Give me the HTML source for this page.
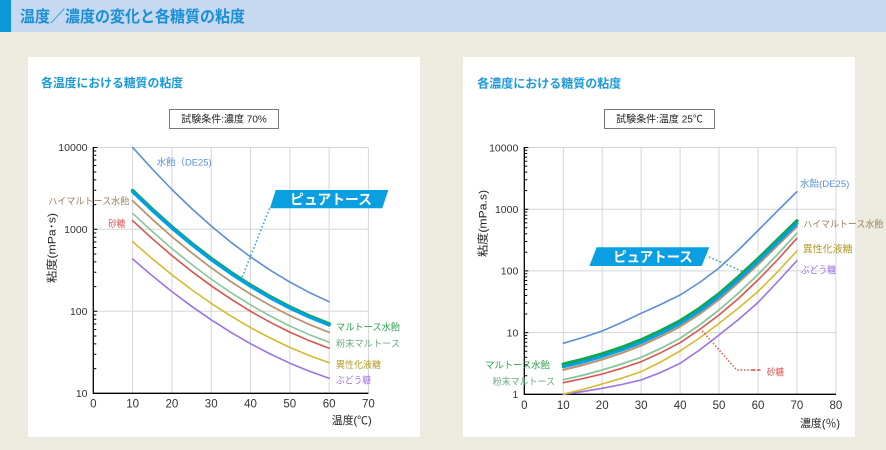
<!DOCTYPE html>
<html><head><meta charset="utf-8">
<style>
html,body{margin:0;padding:0;background:#EDEBE0;}
body{width:886px;height:450px;overflow:hidden;position:relative;}
svg{position:absolute;left:0;top:0;}
text{font-family:"Liberation Sans","Noto Sans CJK JP",sans-serif;}
</style></head>
<body>
<svg width="886" height="450" viewBox="0 0 886 450" xmlns="http://www.w3.org/2000/svg">
<!-- header -->
<rect x="0" y="0" width="886" height="32" fill="#C6D9F1"/>
<rect x="0" y="0" width="11" height="32" fill="#0E96DB"/>
<text x="20" y="22" font-size="16" font-weight="bold" fill="#1A8FD6" textLength="225" lengthAdjust="spacingAndGlyphs">温度／濃度の変化と各糖質の粘度</text>

<!-- panels -->
<rect x="28" y="57" width="392" height="380" fill="#FFFFFF"/>
<rect x="463" y="57" width="392" height="380" fill="#FFFFFF"/>

<!-- ================= LEFT CHART ================= -->
<text x="41" y="87" font-size="12" font-weight="bold" fill="#1E9AD9" textLength="142" lengthAdjust="spacingAndGlyphs">各温度における糖質の粘度</text>
<rect x="169.5" y="109.5" width="109" height="19" fill="none" stroke="#777" stroke-width="1"/>
<text x="224" y="122.5" font-size="10" fill="#222" text-anchor="middle">試験条件:濃度 70%</text>

<g stroke="#D5D5D5" stroke-width="1" fill="none">
<path d="M132.6 147.3V393.3M171.9 147.3V393.3M211.2 147.3V393.3M250.5 147.3V393.3M289.8 147.3V393.3M329.1 147.3V393.3M368.4 147.3V393.3"/>
<path d="M93.3 147.5H368.4M93.3 229.3H368.4M93.3 311.3H368.4"/>
</g>
<g stroke="#000" stroke-width="1.3" fill="none">
<path d="M93.3 147V393.3H368.4"/>
<path d="M93.3 147.5h4M93.3 229.3h4M93.3 311.3h4
M93.3 368.6h3M93.3 354.2h3M93.3 343.9h3M93.3 336h3M93.3 329.5h3M93.3 324h3M93.3 319.2h3M93.3 315h3
M93.3 286.6h3M93.3 272.2h3M93.3 261.9h3M93.3 254h3M93.3 247.5h3M93.3 242h3M93.3 237.2h3M93.3 233h3
M93.3 204.6h3M93.3 190.2h3M93.3 179.9h3M93.3 172h3M93.3 165.5h3M93.3 160h3M93.3 155.2h3M93.3 151h3" stroke-width="1"/>
</g>
<g font-size="10.5" fill="#333" text-anchor="end">
<text x="87.5" y="151">10000</text>
<text x="87.5" y="233">1000</text>
<text x="87.5" y="315">100</text>
<text x="87.5" y="397">10</text>
</g>
<g font-size="11.5" fill="#333" text-anchor="middle">
<text x="93.3" y="407.5">0</text>
<text x="132.6" y="407.5">10</text>
<text x="171.9" y="407.5">20</text>
<text x="211.2" y="407.5">30</text>
<text x="250.5" y="407.5">40</text>
<text x="289.8" y="407.5">50</text>
<text x="329.1" y="407.5">60</text>
<text x="368.4" y="407.5">70</text>
</g>
<text x="331.7" y="424" font-size="11" fill="#222" textLength="40" lengthAdjust="spacingAndGlyphs">温度(℃)</text>
<text transform="translate(55.5,283) rotate(-90)" font-size="11" fill="#222" textLength="70" lengthAdjust="spacingAndGlyphs">粘度(mPa･s)</text>

<g fill="none" stroke-linejoin="round" stroke-linecap="round">
<polyline stroke="#5A8FD8" stroke-width="1.6" points="132.6,147.3 152.3,169.1 171.9,189.5 191.6,208.5 211.2,226 230.9,242.2 250.5,256.9 270.2,270.2 289.8,282.1 309.5,292.6 329.1,301.7"/>
<polyline stroke="#9D72E6" stroke-width="1.6" points="132.6,259 152.3,275.8 171.9,291.6 191.6,306.3 211.2,319.8 230.9,332.3 250.5,343.7 270.2,354 289.8,363.2 309.5,371.3 329.1,378.3"/>
<polyline stroke="#D6BA2E" stroke-width="1.6" points="132.6,241.7 152.3,258.8 171.9,274.8 191.6,289.6 211.2,303.4 230.9,316.1 250.5,327.6 270.2,338 289.8,347.4 309.5,355.6 329.1,362.7"/>
<polyline stroke="#D9534F" stroke-width="1.6" points="132.6,220.7 152.3,238.7 171.9,255.6 191.6,271.3 211.2,285.8 230.9,299.1 250.5,311.3 270.2,322.3 289.8,332.1 309.5,340.8 329.1,348.3"/>
<polyline stroke="#86C79A" stroke-width="1.6" points="132.6,213.3 152.3,231.5 171.9,248.6 191.6,264.4 211.2,279.1 230.9,292.6 250.5,304.9 270.2,316 289.8,326 309.5,334.7 329.1,342.3"/>
<polyline stroke="#B99470" stroke-width="1.8" points="132.6,200.7 152.3,219.3 171.9,236.7 191.6,252.8 211.2,267.8 230.9,281.6 250.5,294.1 270.2,305.5 289.8,315.6 309.5,324.6 329.1,332.3"/>
<polyline stroke="#12A64B" stroke-width="3.6" points="132.6,190.6 152.3,209.4 171.9,227 191.6,243.4 211.2,258.6 230.9,272.5 250.5,285.2 270.2,296.7 289.8,307 309.5,316.1 329.1,323.9"/>
<polyline stroke="#00A0E6" stroke-width="3.2" points="132.6,191.7 152.3,210.5 171.9,228.1 191.6,244.5 211.2,259.7 230.9,273.6 250.5,286.3 270.2,297.8 289.8,308.1 309.5,317.2 329.1,325"/>
</g>

<line x1="269.5" y1="208.5" x2="241.7" y2="278.3" stroke="#2AA5E2" stroke-width="1.6" stroke-dasharray="1.5 2.3"/>
<polygon points="275.7,190 388.3,190 382.3,208.3 270,208.3" fill="#0A9FE0"/>
<text x="290" y="204.5" font-size="14" font-weight="bold" fill="#FFFFFF" textLength="82" lengthAdjust="spacingAndGlyphs">ピュアトース</text>

<g font-size="9.5">
<text x="156.7" y="165.5" fill="#5A8FD8" textLength="55" lengthAdjust="spacingAndGlyphs">水飴（DE25)</text>
<text x="48.3" y="204.5" fill="#9E8260" textLength="81" lengthAdjust="spacingAndGlyphs">ハイマルトース水飴</text>
<text x="108.3" y="227" fill="#D9534F" textLength="17" lengthAdjust="spacingAndGlyphs">砂糖</text>
<text x="336" y="330.5" fill="#2EA04E" textLength="64" lengthAdjust="spacingAndGlyphs">マルトース水飴</text>
<text x="336" y="347" fill="#6AAE80" textLength="64" lengthAdjust="spacingAndGlyphs">粉末マルトース</text>
<text x="336" y="368" fill="#B59A2A" textLength="45" lengthAdjust="spacingAndGlyphs">異性化液糖</text>
<text x="336" y="383.5" fill="#9D72E6" textLength="35" lengthAdjust="spacingAndGlyphs">ぶどう糖</text>
</g>

<!-- ================= RIGHT CHART ================= -->
<text x="477.3" y="87.5" font-size="12" font-weight="bold" fill="#1E9AD9" textLength="144" lengthAdjust="spacingAndGlyphs">各濃度における糖質の粘度</text>
<rect x="604.5" y="109.5" width="110" height="19" fill="none" stroke="#777" stroke-width="1"/>
<text x="659.5" y="122.5" font-size="10" fill="#222" text-anchor="middle">試験条件:温度  25℃</text>

<g stroke="#D5D5D5" stroke-width="1" fill="none">
<path d="M563.3 147.5V394.3M602.2 147.5V394.3M641.1 147.5V394.3M680.1 147.5V394.3M719 147.5V394.3M758 147.5V394.3M796.9 147.5V394.3M835.9 147.5V394.3"/>
<path d="M524.3 147.5H835.9M524.3 209.2H835.9M524.3 270.9H835.9M524.3 332.6H835.9"/>
</g>
<g stroke="#000" fill="none">
<path d="M524.3 147V394.3H836" stroke-width="1.3"/>
<path stroke-width="1" d="M524.3 147.5h4M524.3 209.2h4M524.3 270.9h4M524.3 332.6h4
M524.3 375.7h3M524.3 364.9h3M524.3 357.2h3M524.3 351.2h3M524.3 346.3h3M524.3 342.2h3M524.3 338.6h3M524.3 335.4h3
M524.3 314h3M524.3 303.2h3M524.3 295.5h3M524.3 289.5h3M524.3 284.6h3M524.3 280.5h3M524.3 276.9h3M524.3 273.7h3
M524.3 252.3h3M524.3 241.5h3M524.3 233.8h3M524.3 227.8h3M524.3 222.9h3M524.3 218.8h3M524.3 215.2h3M524.3 212h3
M524.3 190.6h3M524.3 179.8h3M524.3 172.1h3M524.3 166.1h3M524.3 161.2h3M524.3 157.1h3M524.3 153.5h3M524.3 150.3h3"/>
</g>
<g font-size="10.5" fill="#333" text-anchor="end">
<text x="518.3" y="151.3">10000</text>
<text x="518.3" y="213">1000</text>
<text x="518.3" y="274.7">100</text>
<text x="518.3" y="336.4">10</text>
<text x="518.3" y="398">1</text>
</g>
<g font-size="11.5" fill="#333" text-anchor="middle">
<text x="524.3" y="409">0</text>
<text x="563.3" y="409">10</text>
<text x="602.2" y="409">20</text>
<text x="641.1" y="409">30</text>
<text x="680.1" y="409">40</text>
<text x="719" y="409">50</text>
<text x="758" y="409">60</text>
<text x="796.9" y="409">70</text>
<text x="835.9" y="409">80</text>
</g>
<text x="800" y="427" font-size="11" fill="#222" textLength="40" lengthAdjust="spacingAndGlyphs">濃度(％)</text>
<text transform="translate(486.5,257) rotate(-90)" font-size="11" fill="#222" textLength="67" lengthAdjust="spacingAndGlyphs">粘度(mPa.s)</text>

<g fill="none" stroke-linejoin="round" stroke-linecap="round">
<polyline stroke="#5A8FD8" stroke-width="1.6" points="563.3,343.3 582.8,337.5 602.2,331 621.7,322.5 641.1,313.3 660.6,304.5 680.1,295 699.6,282.5 719,268 738.5,250 758,230.5 777.4,211 796.9,191.7"/>
<polyline stroke="#9D72E6" stroke-width="1.6" points="563.3,394.3 582.8,391.6 602.2,388.3 621.7,384.5 641.1,380 660.6,372.5 680.1,363.3 699.6,350 719,335 738.5,319.5 758,302.5 777.4,282 796.9,260.7"/>
<polyline stroke="#D6BA2E" stroke-width="1.6" points="563.3,394 582.8,389.5 602.2,384 621.7,378.3 641.1,371.7 660.6,362 680.1,351 699.6,338 719,323.5 738.5,308 758,291.5 777.4,272 796.9,251"/>
<polyline stroke="#D9534F" stroke-width="1.6" points="563.3,382.7 582.8,378.6 602.2,374 621.7,368.3 641.1,361.7 660.6,352.8 680.1,342.7 699.6,329.5 719,315 738.5,298.5 758,280 777.4,260 796.9,238.3"/>
<polyline stroke="#86C79A" stroke-width="1.8" points="563.3,379.8 582.8,375.2 602.2,370 621.7,364 641.1,357.3 660.6,348.5 680.1,338.3 699.6,325 719,310 738.5,293 758,274.5 777.4,254.5 796.9,233.3"/>
<polyline stroke="#B99470" stroke-width="2.2" points="563.3,369.8 582.8,365 602.2,359.5 621.7,353 641.1,345.5 660.6,336.5 680.1,326.5 699.6,314 719,299.5 738.5,282.5 758,264.5 777.4,245.5 796.9,226.5"/>
<polyline stroke="#12A64B" stroke-width="3.6" points="563.3,364.3 582.8,359.5 602.2,354 621.7,347.5 641.1,340 660.6,331 680.1,321 699.6,308.5 719,294 738.5,277 758,259 777.4,240 796.9,221"/>
<polyline stroke="#00A0E6" stroke-width="3" points="563.3,366.8 582.8,362 602.2,356.5 621.7,350 641.1,342.5 660.6,333.5 680.1,323.5 699.6,311 719,296.5 738.5,279.5 758,261.5 777.4,242.5 796.9,223.5"/>
</g>

<line x1="709" y1="257" x2="743.3" y2="271.7" stroke="#2AA5E2" stroke-width="1.6" stroke-dasharray="1.5 2.3"/>
<polygon points="596.7,247.3 709.3,247.3 701.7,266 589.3,266" fill="#0A9FE0"/>
<text x="613.3" y="262" font-size="14" font-weight="bold" fill="#FFFFFF" textLength="79.4" lengthAdjust="spacingAndGlyphs">ピュアトース</text>

<polyline points="700,328.3 736.7,370 752,370" fill="none" stroke="#D9534F" stroke-width="1.4" stroke-dasharray="1.5 1.8"/>
<line x1="752" y1="370" x2="762" y2="370" stroke="#D9534F" stroke-width="1.6" stroke-dasharray="3.5 1.5"/>

<g font-size="9.5">
<text x="800" y="187" fill="#5A8FD8" textLength="49.3" lengthAdjust="spacingAndGlyphs">水飴(DE25)</text>
<text x="803.3" y="227.5" fill="#9E8260" textLength="80" lengthAdjust="spacingAndGlyphs">ハイマルトース水飴</text>
<text x="802.7" y="252.5" font-size="10" fill="#B59A2A" textLength="50" lengthAdjust="spacingAndGlyphs">異性化液糖</text>
<text x="800.7" y="273.5" font-size="10" fill="#9D72E6" textLength="35.3" lengthAdjust="spacingAndGlyphs">ぶどう糖</text>
<text x="485" y="368.5" fill="#2EA04E" textLength="65" lengthAdjust="spacingAndGlyphs">マルトース水飴</text>
<text x="492.7" y="385" fill="#6AAE80" textLength="62.3" lengthAdjust="spacingAndGlyphs">粉末マルトース</text>
<text x="766.7" y="375.5" fill="#D9534F" textLength="17.3" lengthAdjust="spacingAndGlyphs">砂糖</text>
</g>
</svg>
</body></html>
